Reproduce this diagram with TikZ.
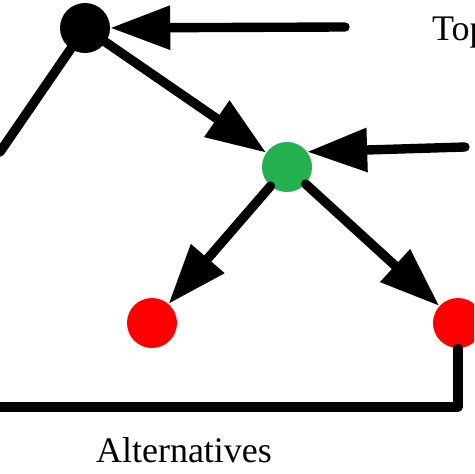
\documentclass[tikz,border=0pt]{standalone}
\usepackage{fontspec}
\setmainfont{Liberation Serif}
\usetikzlibrary{arrows.meta}

\definecolor{altgreen}{HTML}{22B14C}
\definecolor{altred}{HTML}{FF0000}

\begin{document}
\begin{tikzpicture}[
    x=0.03cm, y=-0.03cm,
    wire/.style={line width=8pt, line cap=round, line join=round},
    link/.style={wire, -{Triangle[length=1.8cm,width=1.26cm]}},
    dot/.style={circle, inner sep=0pt, minimum size=1.5cm, fill=#1},
    label/.style={inner sep=0pt, font=\fontsize{30.7}{36}\selectfont}
  ]

  \useasboundingbox (0,0) rectangle (474,474);
  \clip (0,0) rectangle (474,474);

  \node[dot=black] (top) at (85,28) {};
  \node[dot=altgreen] (mid) at (287,167) {};
  \node[dot=altred] (left) at (152,323) {};
  \node[dot=altred] (right) at (458,323) {};

  \coordinate (topin) at (345,27);
  \coordinate (midin) at (465,147);
  \coordinate (slope) at (0,152);
  \coordinate (base) at (0,407);

  \draw[link] (topin) -- (top);
  \draw[link] (midin) -- (mid.37);
  \draw[link] (top) -- (mid);
  \draw[link] (mid) -- (left);
  \draw[link] (mid) -- (right);
  \draw[wire] (top) -- (slope);
  \draw[wire] (right.south) |- (base);

  \node[label, anchor=base west] (toplabel) at (432,40) {Top};
  \node[label, anchor=base] (altlabel) at (184,462) {Alternatives};

\end{tikzpicture}
\end{document}
